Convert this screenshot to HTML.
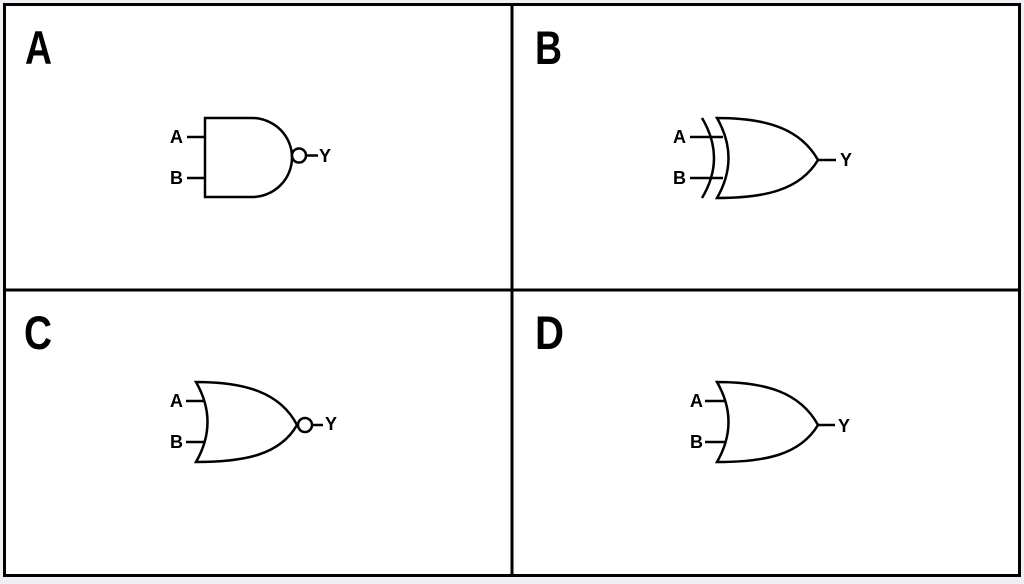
<!DOCTYPE html>
<html><head><style>html,body{margin:0;padding:0;background:#eef0f4}</style></head><body>
<svg width="1024" height="579" viewBox="0 0 1024 579" xmlns="http://www.w3.org/2000/svg">
<rect x="4.5" y="4.5" width="1015" height="571" fill="#fff" stroke="#000" stroke-width="3"/>
<line x1="512" y1="4" x2="512" y2="576" stroke="#000" stroke-width="3"/>
<line x1="4" y1="290" x2="1020" y2="290" stroke="#000" stroke-width="3"/>
<g font-family="Liberation Sans, DejaVu Sans, sans-serif" font-weight="bold" font-size="47">
<text x="25" y="64" textLength="27" lengthAdjust="spacingAndGlyphs">A</text>
<text x="535" y="64" textLength="27" lengthAdjust="spacingAndGlyphs">B</text>
<text x="24" y="349" textLength="28" lengthAdjust="spacingAndGlyphs">C</text>
<text x="535" y="349" textLength="29" lengthAdjust="spacingAndGlyphs">D</text>
</g>
<g fill="none" stroke="#000" stroke-width="2.5">
<path d="M205,118 H252 A40,39.5 0 0 1 252,197 H205 Z"/>
<circle cx="299" cy="155.5" r="7"/>
<line x1="306" y1="155.5" x2="318" y2="155.5"/>
<line x1="187" y1="137" x2="205" y2="137"/>
<line x1="187" y1="178" x2="205" y2="178"/>
<path d="M717,118 C765,118 800,128 818,160 C800,190 765,198 717,198 Q740,158 717,118 Z"/>
<path d="M702,118 Q726,158 702,198"/>
<line x1="818" y1="160" x2="836" y2="160"/>
<line x1="690" y1="137" x2="723" y2="137"/>
<line x1="690" y1="178" x2="723" y2="178"/>
<path d="M196,382 C244,382 280,392 297,425 C280,455 244,462 196,462 Q219,422 196,382 Z"/>
<circle cx="305" cy="425" r="7"/>
<line x1="312" y1="425" x2="323" y2="425"/>
<line x1="186" y1="401" x2="204" y2="401"/>
<line x1="186" y1="442" x2="204" y2="442"/>
<path d="M717,382 C765,382 800,392 818,425 C800,455 765,462 717,462 Q740,422 717,382 Z"/>
<line x1="818" y1="425" x2="835" y2="425"/>
<line x1="705" y1="401" x2="725" y2="401"/>
<line x1="705" y1="442" x2="725" y2="442"/>
</g>
<g font-family="Liberation Sans, DejaVu Sans, sans-serif" font-weight="bold" font-size="18">
<text x="170" y="143">A</text><text x="170" y="184">B</text><text x="319" y="162">Y</text>
<text x="673" y="143">A</text><text x="673" y="184">B</text><text x="840" y="166">Y</text>
<text x="170" y="407">A</text><text x="170" y="448">B</text><text x="325" y="430">Y</text>
<text x="690" y="407">A</text><text x="690" y="448">B</text><text x="838" y="432">Y</text>
</g>
</svg>
</body></html>
